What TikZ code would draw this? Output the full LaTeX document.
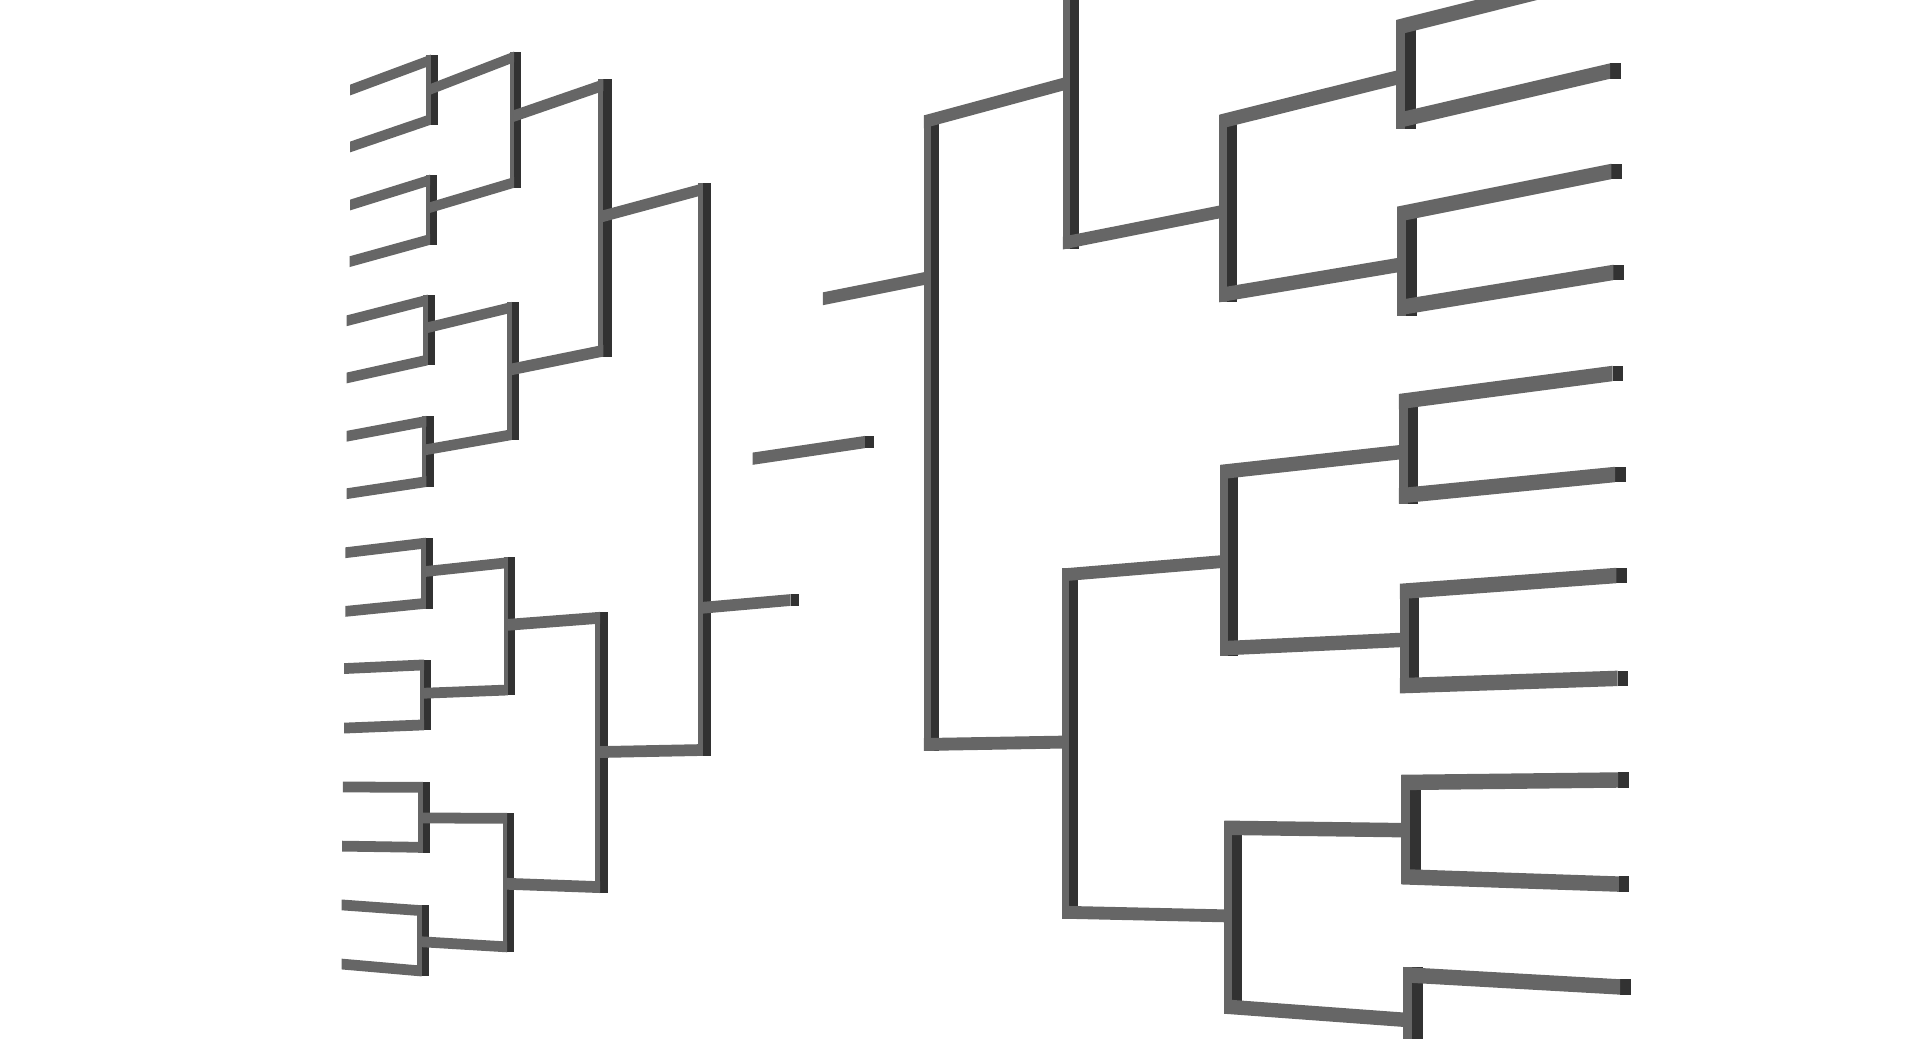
\documentclass[tikz,border=0pt]{standalone}

\definecolor{barface}{RGB}{102,102,102}
\definecolor{barside}{RGB}{50,50,50}

\def\bh{8}\def\bv{4}\def\bd{6}
\newcommand\setbar[3]{\def\bh{#1}\def\bv{#2}\def\bd{#3}}
\newcommand\postside[3]{\fill[barside] ({#1+\bv/2},{#2-\bh/2}) rectangle ({#1+\bv/2+\bd},{#3+\bh/2});}
\newcommand\postfront[3]{\fill[barface] ({#1-\bv/2},{#2-\bh/2}) rectangle ({#1+\bv/2},{#3+\bh/2});}
\newcommand\barseg[4]{\fill[barface] ({#1},{#2-\bh/2}) -- ({#3},{#4-\bh/2}) -- ({#3},{#4+\bh/2}) -- ({#1},{#2+\bh/2}) -- cycle;}
\newcommand\barcap[2]{\fill[barside] ({#1},{#2-\bh/2}) rectangle ({#1+\bd},{#2+\bh/2});}

\def\leftfirst{%
286/73.5/286/120/350/49/97.5,
286/167.4/285.5/213.7/349.5/147/195.5,
283/262/283/308.7/347.4/245/294,
283/356.3/283/403.2/346.5/344/393.3,
282/451.4/282/499.3/345.8/443.5/492.7,
281/546/281/594.6/344.5/543/592,
280/642.7/279.5/691/343.5/643/692,
279/739/279/787.3/342.5/743.7/793}
\def\leftsecond{%
350/73.5/349.5/170/418/46.5/149,
347.4/268/346.5/367.5/416/251/355,
345.8/466.9/344.5/566.2/413/459.5/563.5,
343.5/668/342.5/769/412.4/668.3/773.3}
\def\leftthird{%
418/95.3/416/302/490.7/69.5/286.4,
413/510.4/412.4/721.7/488/504.5/724.5,
490.7/177/488/614.2/572/154.5/612.5}
\def\rightinner{%
871/68/870.5/606/757.3/99.5/608,
999/-110/999/172.5/871/-80/198.5,
999.7/458.5/1003/748/870.5/469.5/745}
\def\rightsecond{%
1144/62.6/1144.6/216/999/99.5/241,
1146/369/1146.8/522.5/999.7/385.5/529.5,
1148/678/1149.5/833/1003/676/822}
\def\rightfirst{%
1316/-21.5/1315/58/1144/22.5/98.7,
1316/140/1317.5/222.5/1144.6/175/251.5,
1317/305/1319/387.5/1146/328/405,
1320/470/1321/554/1146.8/483/560,
1321.5/637/1322/722/1148/639/716,
1323/806/1324/890/1149.5/796/873}

\begin{document}
\begin{tikzpicture}[x=1pt,y=-1pt]

    \useasboundingbox (0,0) rectangle (1568,848);
    \clip (0,0) rectangle (1568,848);

    \setbar{8.8}{3.6}{5.8}
    \foreach \xa/\ya/\xb/\yb/\xv/\yt/\yu in \leftfirst {\postside{\xv}{\yt}{\yu}}
    \foreach \xa/\ya/\xb/\yb/\xv/\yt/\yu in \leftsecond {\postside{\xv}{\yt}{\yu}}
    \setbar{9.6}{4.2}{6.8}
    \foreach \xa/\ya/\xb/\yb/\xv/\yt/\yu in \leftthird {\postside{\xv}{\yt}{\yu}}
    \barcap{645.7}{490}
    \setbar{10}{5}{7}
    \barcap{706.4}{361}
    \setbar{10.5}{5.8}{7}
    \foreach \xa/\ya/\xb/\yb/\xv/\yt/\yu in \rightinner {\postside{\xv}{\yt}{\yu}}
    \setbar{11.8}{6.4}{8}
    \foreach \xa/\ya/\xb/\yb/\xv/\yt/\yu in \rightsecond {\postside{\xv}{\yt}{\yu}}
    \setbar{12.6}{7.2}{8.6}
    \foreach \xa/\ya/\xb/\yb/\xv/\yt/\yu in \rightfirst {
        \postside{\xv}{\yt}{\yu}
        \barcap{\xa}{\ya}
        \barcap{\xb}{\yb}
    }

    \setbar{8.8}{3.6}{5.8}
    \foreach \xa/\ya/\xb/\yb/\xv/\yt/\yu in \leftfirst {
        \postfront{\xv}{\yt}{\yu}
        \barseg{\xa}{\ya}{\xv+\bv/2}{\yt}
        \barseg{\xb}{\yb}{\xv+\bv/2}{\yu}
    }
    \foreach \xa/\ya/\xb/\yb/\xv/\yt/\yu in \leftsecond {
        \postfront{\xv}{\yt}{\yu}
        \barseg{\xa}{\ya}{\xv+\bv/2}{\yt}
        \barseg{\xb}{\yb}{\xv+\bv/2}{\yu}
    }
    \setbar{9.6}{4.2}{6.8}
    \foreach \xa/\ya/\xb/\yb/\xv/\yt/\yu in \leftthird {
        \postfront{\xv}{\yt}{\yu}
        \barseg{\xa}{\ya}{\xv+\bv/2}{\yt}
        \barseg{\xb}{\yb}{\xv+\bv/2}{\yu}
    }
    \barseg{572}{496.5}{645.7}{490}
    \setbar{10}{5}{7}
    \barseg{614.7}{374.6}{706.4}{361}
    \setbar{10.5}{5.8}{7}
    \barseg{672}{244}{757.3}{227}
    \foreach \xa/\ya/\xb/\yb/\xv/\yt/\yu in \rightinner {
        \postfront{\xv}{\yt}{\yu}
        \barseg{\xv-\bv/2}{\yt}{\xa}{\ya}
        \barseg{\xv-\bv/2}{\yu}{\xb}{\yb}
    }
    \setbar{11.8}{6.4}{8}
    \foreach \xa/\ya/\xb/\yb/\xv/\yt/\yu in \rightsecond {
        \postfront{\xv}{\yt}{\yu}
        \barseg{\xv-\bv/2}{\yt}{\xa}{\ya}
        \barseg{\xv-\bv/2}{\yu}{\xb}{\yb}
    }
    \setbar{12.6}{7.2}{8.6}
    \foreach \xa/\ya/\xb/\yb/\xv/\yt/\yu in \rightfirst {
        \postfront{\xv}{\yt}{\yu}
        \barseg{\xv-\bv/2}{\yt}{\xa}{\ya}
        \barseg{\xv-\bv/2}{\yu}{\xb}{\yb}
    }

\end{tikzpicture}
\end{document}
